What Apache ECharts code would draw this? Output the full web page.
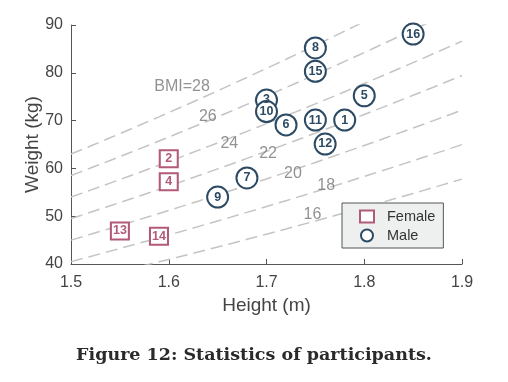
<!DOCTYPE html>
<html><head><meta charset="utf-8">
<script src="https://cdn.jsdelivr.net/npm/echarts@6/dist/echarts.min.js"></script>
<style>html,body{margin:0;padding:0;background:#fff}#c{width:508px;height:382px}</style>
</head><body><div id="c"></div>
<script>
// Participants: [height (m), weight (kg), id]
const femaleData = [[1.60, 62.0, 2], [1.60, 57.2, 4], [1.55, 46.9, 13], [1.59, 45.8, 14]];
const maleData = [
  [1.85, 88.1, 16], [1.75, 85.2, 8], [1.75, 80.3, 15], [1.70, 74.3, 3], [1.70, 71.9, 10],
  [1.80, 75.2, 5], [1.72, 69.1, 6], [1.75, 70.1, 11], [1.78, 70.1, 1], [1.76, 65.1, 12],
  [1.68, 58.0, 7], [1.65, 54.0, 9]
];
const bmiLevels = [16, 18, 20, 22, 24, 26, 28];
// label positions for BMI isolines: [height, weight, text]
const bmiLabels = [
  [1.6136, 77.2, 'BMI=28'], [1.640, 70.8, '26'], [1.662, 65.1, '24'], [1.7016, 63.2, '22'],
  [1.727, 59.0, '20'], [1.761, 56.5, '18'], [1.747, 50.3, '16']
];
const xTicks = [1.5, 1.6, 1.7, 1.8, 1.9];
const yTicks = [40, 50, 60, 70, 80, 90];

const heightsSample = [];
for (let i = 0; i <= 40; i++) heightsSample.push(+(1.5 + i * 0.01).toFixed(2));

const FEM = '#b25a7a', MAL = '#2c4a63';
const chart = echarts.init(document.getElementById('c'), null, {renderer: 'canvas'});

const bmiSeries = bmiLevels.map(b => ({
  type: 'line', name: 'BMI' + b, silent: true, symbol: 'none', clip: true, z: 1,
  data: heightsSample.map(h => [h, b * h * h]),
  lineStyle: {color: '#c4c4c4', width: 1.5, type: [12, 6]}
}));

chart.setOption({
  animation: false,
  textStyle: {fontFamily: 'Liberation Sans, Arial, sans-serif'},
  grid: {left: 71, right: 46, top: 25, bottom: 118, containLabel: false},
  xAxis: {
    type: 'value', min: xTicks[0], max: xTicks[xTicks.length - 1], interval: 0.1,
    name: 'Height (m)', nameLocation: 'middle', nameGap: 32, nameMoveOverlap: false,
    nameTextStyle: {fontSize: 19, color: '#444'},
    axisLine: {lineStyle: {color: '#555', width: 1}},
    axisTick: {inside: true, length: 5, lineStyle: {color: '#555'}},
    axisLabel: {fontSize: 16, color: '#444', margin: 11, formatter: v => v.toFixed(1)},
    splitLine: {show: false}
  },
  yAxis: {
    type: 'value', min: yTicks[0], max: yTicks[yTicks.length - 1], interval: 10,
    name: 'Weight (kg)', nameLocation: 'middle', nameGap: 29, nameRotate: 90, nameMoveOverlap: false,
    nameTextStyle: {fontSize: 19, color: '#444'},
    axisLine: {show: true, lineStyle: {color: '#555', width: 1}},
    axisTick: {show: true, inside: true, length: 5, lineStyle: {color: '#555'}},
    axisLabel: {fontSize: 16, color: '#444', margin: 8},
    splitLine: {show: false}
  },
  legend: {
    left: 342, top: 203, orient: 'vertical', itemGap: 4,
    backgroundColor: '#eef0ef', borderColor: '#555', borderWidth: 1,
    padding: [6, 8, 5, 17], itemWidth: 14, itemHeight: 12,
    textStyle: {fontSize: 14.5, color: '#333', padding: [0, 0, 0, 8]},
    data: [{name: 'Female', icon: 'rect'}, {name: 'Male', icon: 'circle'}]
  },
  series: [
    ...bmiSeries,
    {
      type: 'scatter', name: 'BMI labels', silent: true, symbolSize: 0, z: 2,
      data: bmiLabels.map(d => ({value: [d[0], d[1]], name: d[2]})),
      label: {show: true, position: 'inside', formatter: p => p.name, fontSize: 16, color: '#777'}
    },
    {
      type: 'scatter', name: 'Female', symbol: 'rect', symbolSize: [18, 17], z: 5,
      data: femaleData,
      itemStyle: {color: '#fff', borderColor: FEM, borderWidth: 2, opacity: 1},
      label: {show: true, position: 'inside', formatter: p => p.value[2], fontSize: 12.5, fontWeight: 'bold', color: FEM}
    },
    {
      type: 'scatter', name: 'Male', symbol: 'circle', symbolSize: 21, z: 5,
      data: maleData,
      itemStyle: {color: '#fff', borderColor: MAL, borderWidth: 2, opacity: 1},
      label: {show: true, position: 'inside', formatter: p => p.value[2], fontSize: 12.5, fontWeight: 'bold', color: MAL}
    }
  ],
  graphic: [{
    type: 'text', left: 'center', top: 346,
    style: {text: 'Figure 12: Statistics of participants.', font: 'bold 17.5px "DejaVu Serif", serif', fill: '#2a2a2a'}
  }]
});
</script></body></html>
